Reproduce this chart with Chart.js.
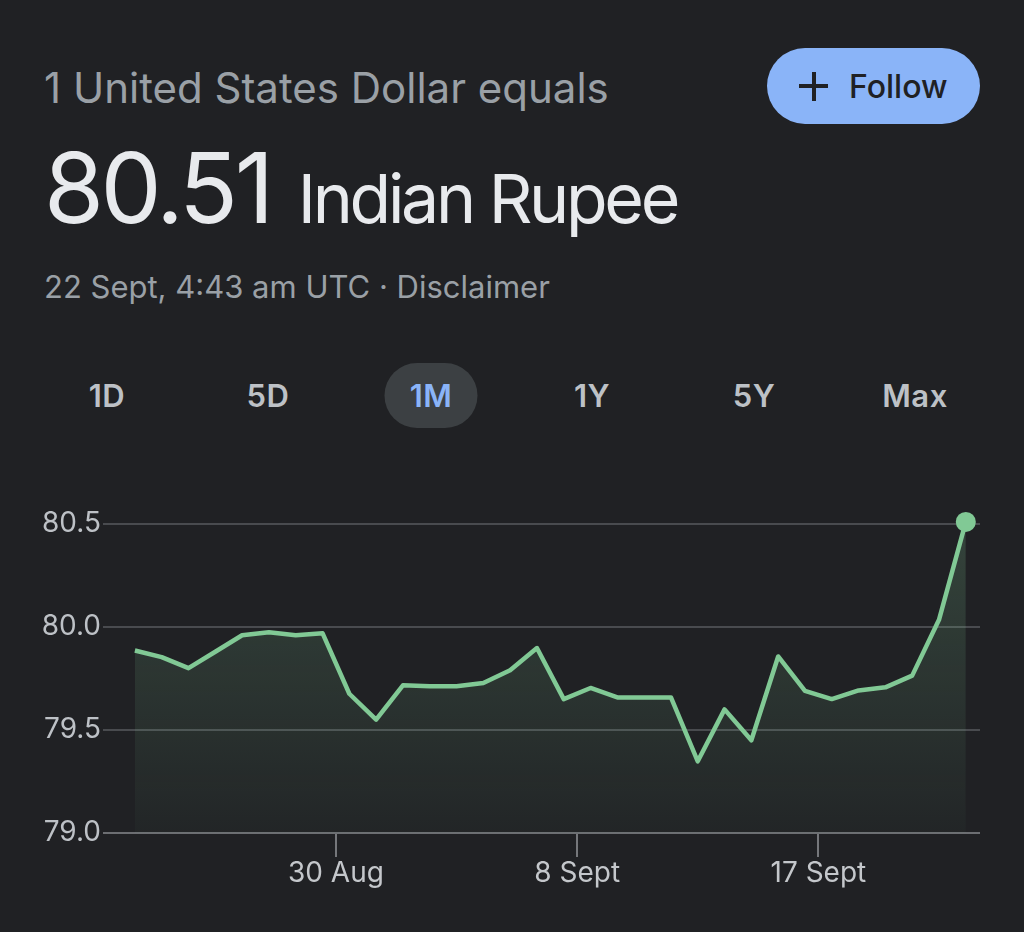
<!DOCTYPE html>
<html>
<head>
<meta charset="utf-8">
<title>USD to INR</title>
<script src="https://cdn.jsdelivr.net/npm/chart.js@4.4.1/dist/chart.umd.min.js"></script>
<style>
  html, body { margin: 0; padding: 0; background: #202124; }
  body { width: 1024px; height: 932px; position: relative; overflow: hidden; font-family: Inter, "Noto Sans", sans-serif; }
  .line1 { position: absolute; left: 44px; top: 67px; font-size: 42px; line-height: 42px; color: #9aa0a6; white-space: nowrap; }
  .rate { position: absolute; left: 44px; top: 139px; line-height: 97px; color: #e8eaed; white-space: nowrap; }
  .rate .num { font-size: 97px; letter-spacing: -3.4px; }
  .rate .cur { font-size: 68px; letter-spacing: -3.3px; margin-left: 27px; }
  .line3 { position: absolute; left: 44px; top: 271px; font-size: 31px; line-height: 31px; color: #9aa0a6; white-space: nowrap; }
  .follow { position: absolute; left: 767px; top: 48px; width: 213px; height: 76px; border-radius: 38px; background: #8ab4f8; }
  .plus-h, .plus-v { position: absolute; background: #202124; }
  .plus-h { left: 32px; top: 36px; width: 29px; height: 4px; }
  .plus-v { left: 44.5px; top: 23.5px; width: 4px; height: 29px; }
  .follow .label { position: absolute; left: 82px; top: 0; height: 76px; display: flex; align-items: center;
                   color: #202124; font-size: 32px; font-weight: 500; }
  .tabs { position: absolute; left: 0; top: 363px; width: 1024px; height: 65px; }
  .tab { position: absolute; top: 0; height: 65px; display: flex; align-items: center; justify-content: center;
         transform: translateX(-50%); font-size: 31px; font-weight: 600; color: #bdc1c6; letter-spacing: 0.5px; }
  .tab.active { background: #3c4043; color: #8ab4f8; border-radius: 33px; width: 93px; }
  #wrap { position: absolute; left: 0; top: 480px; width: 1024px; height: 452px; }
</style>
</head>
<body>
<div class="line1">1 United States Dollar equals</div>
<div class="rate"><span class="num">80.51</span><span class="cur">Indian Rupee</span></div>
<div class="line3">22 Sept, 4:43 am UTC · Disclaimer</div>
<div class="follow">
  <div class="plus-h"></div><div class="plus-v"></div>
  <div class="label">Follow</div>
</div>
<div class="tabs">
  <div class="tab" style="left:107px">1D</div>
  <div class="tab" style="left:268px">5D</div>
  <div class="tab active" style="left:431px">1M</div>
  <div class="tab" style="left:592px">1Y</div>
  <div class="tab" style="left:754px">5Y</div>
  <div class="tab" style="left:915px">Max</div>
</div>
<div id="wrap"><canvas id="rateChart"></canvas></div>

<script>
// ===== DATA =====
const dates = [
  '22 Aug', '23 Aug', '24 Aug', '25 Aug', '26 Aug', '27 Aug', '28 Aug', '29 Aug', '30 Aug', '31 Aug',
  '1 Sept', '2 Sept', '3 Sept', '4 Sept', '5 Sept', '6 Sept', '7 Sept', '8 Sept', '9 Sept', '10 Sept',
  '11 Sept', '12 Sept', '13 Sept', '14 Sept', '15 Sept', '16 Sept', '17 Sept', '18 Sept', '19 Sept', '20 Sept',
  '21 Sept', '22 Sept'
];
const rates = [
  79.886, 79.854, 79.80, 79.88, 79.96, 79.975, 79.96, 79.97, 79.676, 79.55,
  79.717, 79.712, 79.712, 79.728, 79.79, 79.898, 79.65, 79.704, 79.658, 79.658,
  79.658, 79.348, 79.60, 79.45, 79.857, 79.69, 79.65, 79.692, 79.707, 79.764,
  80.035, 80.51
];
const xTickDates = ['30 Aug', '8 Sept', '17 Sept'];
const yTicks = [79.0, 79.5, 80.0, 80.5];

const GREEN = '#81c995';

// ticks sit at the start of each labelled day, half a step before its point
const xTickValues = xTickDates.map(d => dates.indexOf(d) - 0.5);

function fillGradient(context) {
  const chart = context.chart;
  const area = chart.chartArea;
  if (!area) return 'rgba(129, 201, 149, 0.12)';
  const g = chart.ctx.createLinearGradient(0, area.top, 0, area.bottom);
  g.addColorStop(0, 'rgba(129, 201, 149, 0.22)');
  g.addColorStop(1, 'rgba(129, 201, 149, 0.03)');
  return g;
}

Chart.defaults.font.family = 'Inter, "Noto Sans", sans-serif';

new Chart(document.getElementById('rateChart'), {
  type: 'line',
  data: {
    datasets: [{
      data: rates.map((v, i) => ({ x: i, y: v })),
      borderColor: GREEN,
      borderWidth: 4.5,
      borderJoinStyle: 'round',
      tension: 0,
      fill: 'start',
      backgroundColor: fillGradient,
      pointRadius: ctx => (ctx.dataIndex === rates.length - 1 ? 10 : 0),
      pointBackgroundColor: GREEN,
      pointBorderWidth: 0,
      clip: false
    }]
  },
  options: {
    responsive: true,
    maintainAspectRatio: false,
    animation: false,
    layout: { padding: { left: 0, right: 44, top: 23.4, bottom: 0 } },
    plugins: { legend: { display: false }, tooltip: { enabled: false } },
    scales: {
      x: {
        type: 'linear',
        min: -1.19,
        max: 31.53,
        afterBuildTicks: axis => { axis.ticks = xTickValues.map(v => ({ value: v })); },
        afterFit: scale => { scale.height = 99; },
        border: { display: false },
        grid: { drawOnChartArea: false, drawTicks: true, tickLength: 24, color: '#75777b', lineWidth: 2 },
        ticks: {
          autoSkip: false,
          maxRotation: 0,
          padding: 0,
          color: '#c4c7cb',
          font: { size: 28 },
          callback: (v, i) => xTickDates[i]
        }
      },
      y: {
        min: 79.0,
        max: 80.6,
        afterBuildTicks: axis => { axis.ticks = yTicks.map(v => ({ value: v })); },
        afterFit: scale => { scale.width = 103; },
        border: { display: false },
        grid: {
          drawTicks: false,
          color: ctx => (ctx.tick && ctx.tick.value === 79 ? '#6c6e72' : '#494b4f'),
          lineWidth: 2
        },
        ticks: {
          padding: 2,
          color: '#bdc1c6',
          font: { size: 28 },
          callback: v => v.toFixed(1)
        }
      }
    }
  }
});
</script>
</body>
</html>
